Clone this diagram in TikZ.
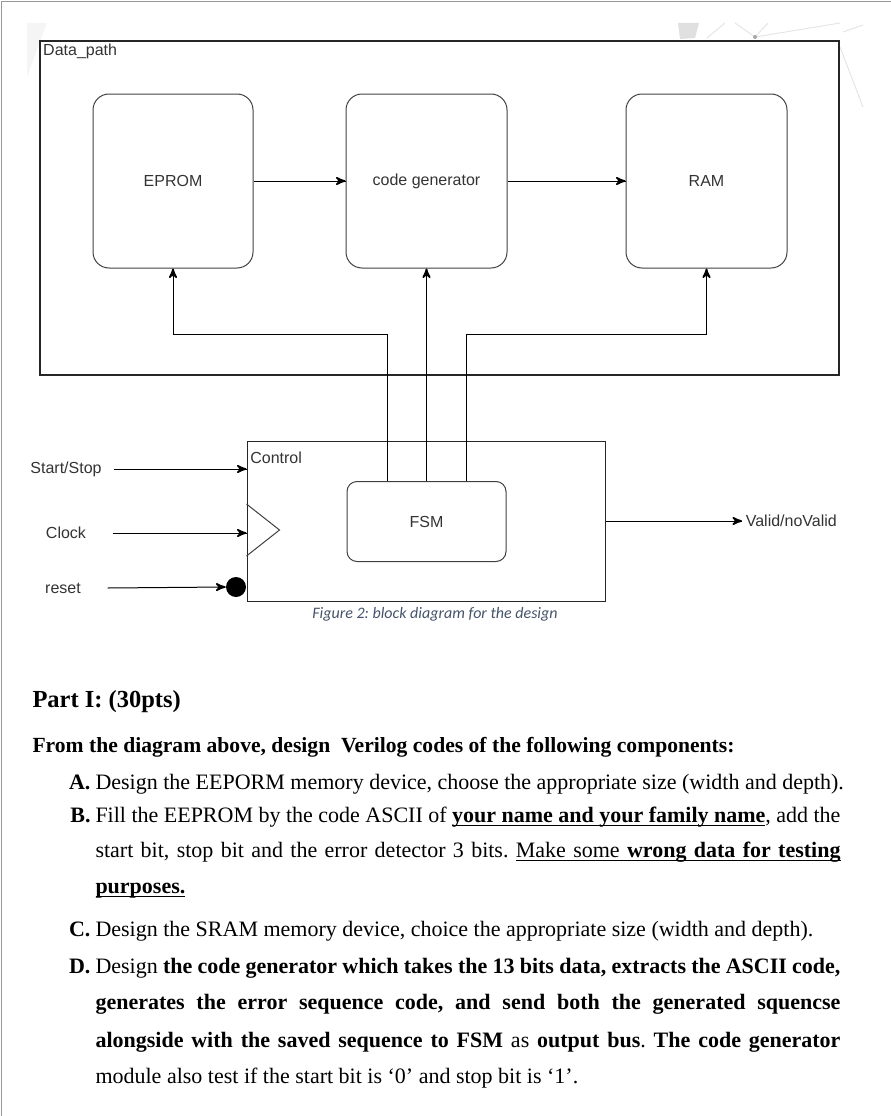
\documentclass[tikz,border=0pt]{standalone}
\usepackage{fontspec}
\setmainfont{Liberation Serif}
\setsansfont{Liberation Sans}
\newfontfamily\captionfont{Carlito}
\usepackage{tikz}
\usetikzlibrary{arrows}
\usetikzlibrary{decorations.markings}
\usetikzlibrary{positioning}
\frenchspacing
\newcommand\ulw[1]{\setbox0\hbox{#1}\dp0=0pt\vtop{\box0\kern2.6pt\hrule height1.4pt}}
\newcommand\ulsp{\leaders\hrule height -2.6pt depth 4pt\hskip\fontdimen2\font plus\fontdimen3\font minus\fontdimen4\font}
\tikzset{->/.style = {decoration={markings,
                                  mark=at position 1 with {\arrow[scale=1.7]{stealth'}}},
                      postaction={decorate}}}
\tikzset{frame/.style = {draw=black!85, line width=1.2pt, inner sep=0}}
\tikzset{unit/.style = {draw=black!75, rounded corners=16, minimum width=160,
                        minimum height=174, text=black!80,
                        font=\sffamily\fontsize{16}{19}\selectfont}}
\tikzset{signal/.style = {text=black!80, font=\sffamily\fontsize{16}{19}\selectfont}}
\tikzset{para/.style = {anchor=base west, inner sep=0, font=\fontsize{22}{26}\selectfont}}
\tikzset{itemmark/.style = {anchor=base east, inner sep=0, font=\fontsize{22}{26}\selectfont\bfseries}}
\definecolor{mgray}{rgb}{0.27, 0.33, 0.42}
\definecolor{mfaint}{rgb}{0.9, 0.9, 0.9}

\begin{document}
\begin{tikzpicture}[x=1pt, y=-1pt, line width=1pt]
    \useasboundingbox (0,0) rectangle (891,1116);
    \draw [black!40] (1.5,1116) -- (1.5,2) -- (891,2);
    % faint picture background
    \fill [black!4] (27,23) -- (47,23) -- (27,77) -- cycle;
    \fill [black!12] (678,23) -- (699,23) -- (695,38) -- (680,39) -- cycle;
    \draw [mfaint] (735,23) -- (755,37) -- (768,23);
    \draw [mfaint] (755,37) -- (840,23);
    \draw [mfaint] (707,38) -- (725,23);
    \draw [mfaint] (840,47) -- (863,107);
    \draw [mfaint] (843,32) -- (863,25);
    \fill [black!35] (755,37) circle (2);

    % data path
    \node [frame, minimum width=799, minimum height=334] (datapath) at (439.5,208) {};
    \node [signal, anchor=north west] (dplabel) at (datapath.north west) {Data\_path};
    \node [unit] (eprom) at (173,181) {EPROM};
    \node [unit, minimum width=161] (codegen) at (426.5,181) {code generator};
    \node [unit, minimum width=161] (ram) at (706.5,181) {RAM};
    \draw [->] (eprom) -- (codegen);
    \draw [->] (codegen) -- (ram);

    % control
    \node [frame, line width=1pt, minimum width=358, minimum height=160] (control) at (426,521) {};
    \node [signal, anchor=north west] (ctlabel) at ([yshift=-8pt]control.north west) {Control};
    \node [unit, minimum width=159, minimum height=80, rounded corners=10] (fsm) at (426.5,521.5) {FSM};
    \draw [->] ([xshift=-39.5pt]fsm.north) -- ++(0,-147) -| (eprom.south);
    \draw [->] (fsm.north) -- (codegen.south);
    \draw [->] ([xshift=39.5pt]fsm.north) -- ++(0,-147) -| (ram.south);
    \draw [black!75] ([yshift=17pt]control.west) -- ([shift={(33pt,-9pt)}]control.west)
                     -- ([yshift=-35pt]control.west);
    \node [circle, fill=black, inner sep=0, minimum size=20] (rst) at (236,587) {};

    \node [signal] (startstop) at (66,469) {Start/Stop};
    \node [signal] (clock) at (66,533) {Clock};
    \node [signal] (reset) at (63,588) {reset};
    \node [signal, anchor=west] (valid) at (742,521) {Valid/noValid};
    \draw [->] ([xshift=9pt]startstop.east) -- (startstop -| control.west);
    \draw [->] ([xshift=23pt]clock.east) -- (clock -| control.west);
    \draw [->] ([xshift=23pt]reset.east) -- (rst.west);
    \draw [->] (control.east) -- (valid.west);

    \node [text=mgray, font=\captionfont\itshape\fontsize{16}{18}\selectfont] (caption)
          at (435,614) {Figure 2: block diagram for the design};

    % text below the figure
    \node [para, font=\fontsize{24.5}{28}\selectfont] (part) at (32,707) {\textbf{Part I: (30pts)}};
    \node [para, font=\fontsize{21.6}{26}\selectfont] (intro) at (32,752) {\textbf{From the diagram above, design \ Verilog codes of the following components:}};
    \node [itemmark] (markA) at (91,789) {A.};
    \node [para] (itemA) at (95,789) {Design the EEPORM memory device, choose the appropriate size (width and depth).};
    \node [itemmark] (markB) at (91,822) {B.};
    \node [para] (itemB) at (95,822) {\makebox[745pt][s]{Fill the EEPROM by the code ASCII of
          \textbf{\ulw{your}\ulsp\ulw{name}\ulsp\ulw{and}\ulsp\ulw{your}\ulsp\ulw{family}\ulsp\ulw{name}}, add the}};
    \node [para] (itemB2) at (95,857) {\makebox[745pt][s]{start bit, stop bit and the error detector 3 bits.
          \ulw{Make}\ulsp\ulw{some}\textbf{\ulsp\ulw{wrong}\ulsp\ulw{data}\ulsp\ulw{for}\ulsp\ulw{testing}}}};
    \node [para] (itemB3) at (95,893) {\textbf{\ulw{purposes.}}};
    \node [itemmark] (markC) at (91,936) {C.};
    \node [para] (itemC) at (95,936) {Design the SRAM memory device, choice the appropriate size (width and depth).};
    \node [itemmark] (markD) at (91,973) {D.};
    \node [para] (itemD) at (95,973) {\makebox[745pt][s]{Design \textbf{the code generator which takes the 13 bits data, extracts the ASCII code,}}};
    \node [para] (itemD2) at (95,1009) {\makebox[745pt][s]{\textbf{generates the error sequence code, and send both the generated squencse}}};
    \node [para] (itemD3) at (95,1047) {\makebox[745pt][s]{\textbf{alongside with the saved sequence to FSM} as \textbf{output bus}. \textbf{The code generator}}};
    \node [para] (itemD4) at (95,1083) {module also test if the start bit is ‘0’ and stop bit is ‘1’.};
  \end{tikzpicture}
\end{document}
